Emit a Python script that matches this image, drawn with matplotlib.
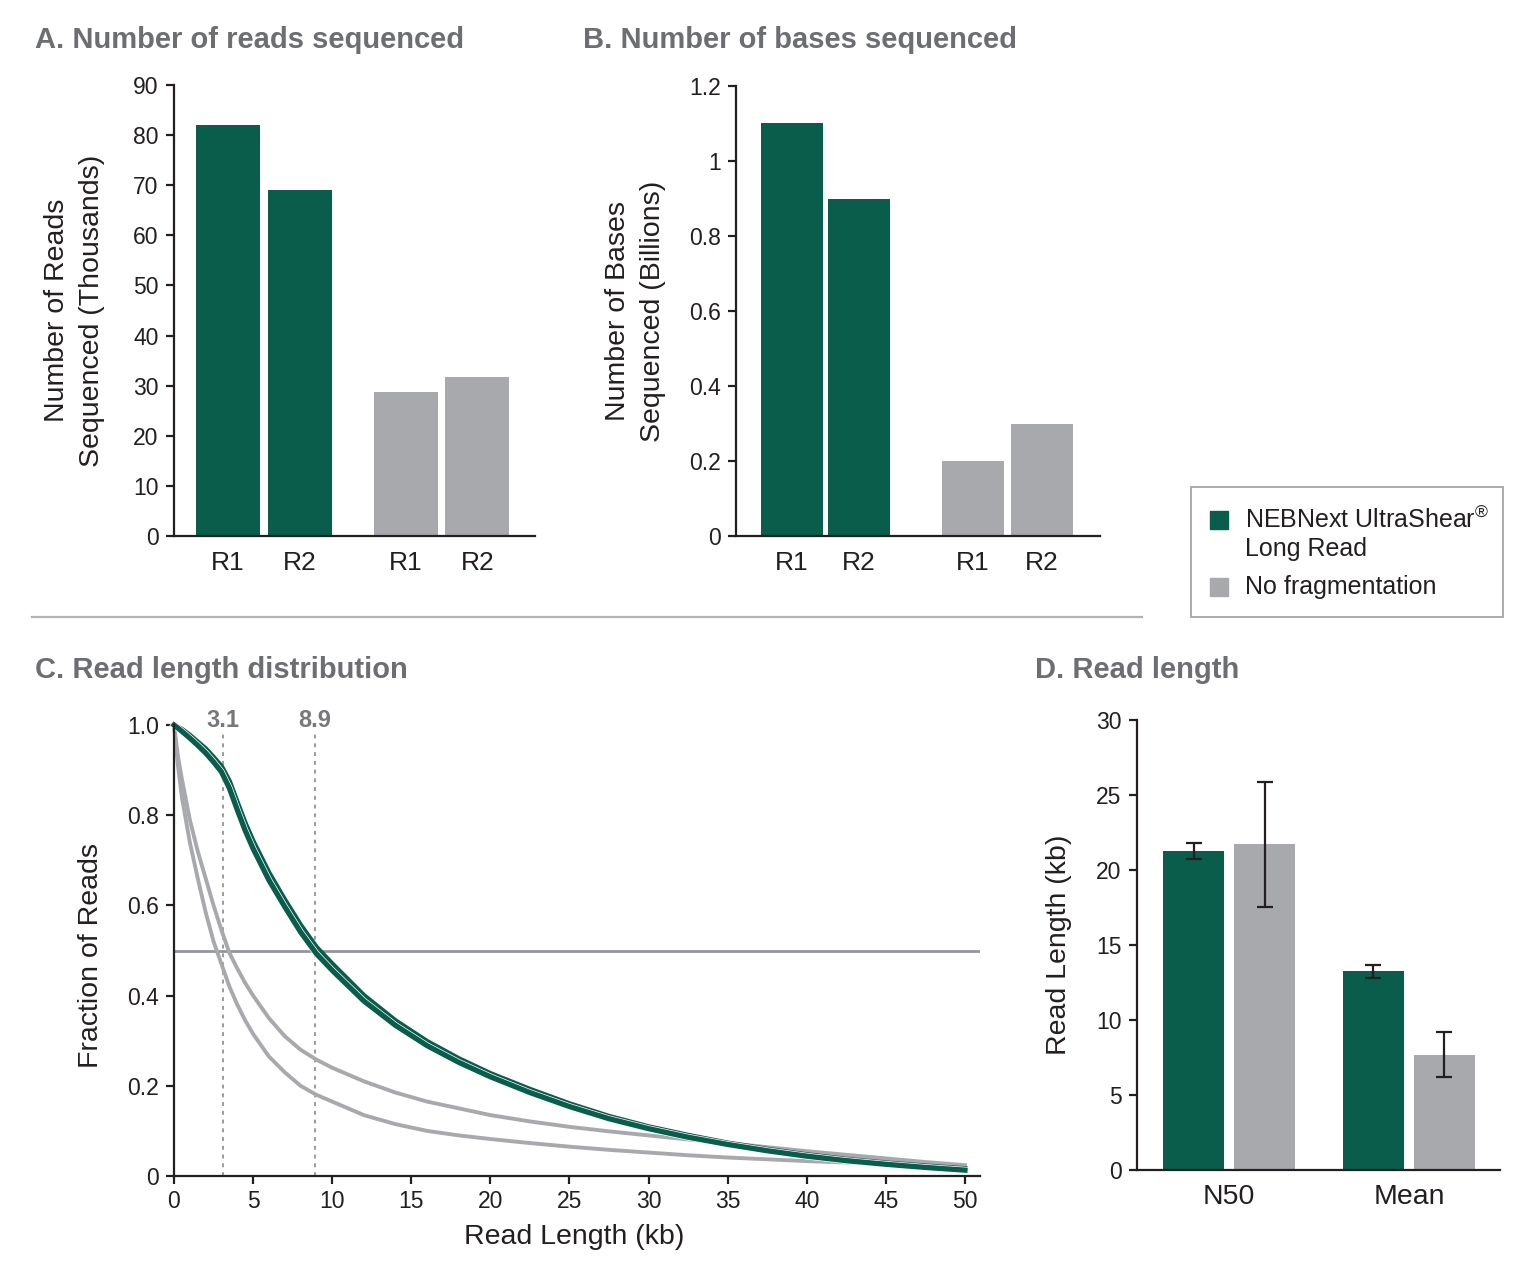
import numpy as np
import matplotlib
matplotlib.use('Agg')
import matplotlib.pyplot as plt
import matplotlib.patheffects as pe
from matplotlib.patches import Rectangle
from matplotlib.lines import Line2D

plt.rcParams['font.family'] = ['Liberation Sans', 'DejaVu Sans']
plt.rcParams['mathtext.fontset'] = 'custom'
plt.rcParams['mathtext.rm'] = 'Liberation Sans'
plt.rcParams['mathtext.it'] = 'Liberation Sans'

GREEN = '#0a5c4b'
GREY = '#a7a9ac'
TITLE = '#6d6e71'
INK = '#231f20'

# A. reads (thousands)
run_labels = ['R1', 'R2', 'R1', 'R2']
reads_ultrashear = [82, 69]
reads_nofrag = [28.7, 31.7]

# B. bases (billions)
bases_ultrashear = [1.1, 0.9]
bases_nofrag = [0.2, 0.3]

# C. read length distribution (fraction of reads >= length)
read_len_kb = [0, 0.25, 0.5, 1, 1.5, 2, 2.5, 3, 3.5, 4, 4.5, 5, 6, 7, 8, 9, 10,
               12, 14, 16, 18, 20, 22.5, 25, 27.5, 30, 32.5, 35, 37.5, 40,
               42.5, 45, 47.5, 50]
frac_us_r1 = [1.0, 0.995, 0.99, 0.977, 0.962, 0.947, 0.928, 0.908, 0.875, 0.828,
              0.782, 0.742, 0.672, 0.612, 0.556, 0.507, 0.47, 0.4, 0.344, 0.298,
              0.26, 0.227, 0.192, 0.16, 0.132, 0.109, 0.09, 0.073, 0.059, 0.047,
              0.037, 0.029, 0.022, 0.016]
frac_us_r2 = [1.0, 0.993, 0.986, 0.971, 0.955, 0.938, 0.918, 0.896, 0.86, 0.812,
              0.766, 0.726, 0.656, 0.597, 0.541, 0.493, 0.456, 0.388, 0.334, 0.289,
              0.252, 0.22, 0.185, 0.154, 0.127, 0.105, 0.086, 0.07, 0.056, 0.044,
              0.034, 0.026, 0.019, 0.013]
frac_nf_r1 = [1.0, 0.93, 0.88, 0.79, 0.72, 0.66, 0.6, 0.545, 0.495, 0.46,
              0.428, 0.4, 0.35, 0.31, 0.28, 0.258, 0.24, 0.21, 0.185, 0.165,
              0.15, 0.135, 0.121, 0.109, 0.099, 0.09, 0.081, 0.073, 0.064, 0.055,
              0.047, 0.039, 0.031, 0.024]
frac_nf_r2 = [1.0, 0.91, 0.84, 0.74, 0.66, 0.585, 0.52, 0.47, 0.42, 0.38,
              0.345, 0.315, 0.265, 0.23, 0.2, 0.18, 0.165, 0.135, 0.115, 0.1,
              0.09, 0.082, 0.073, 0.065, 0.058, 0.052, 0.046, 0.041, 0.037, 0.033,
              0.03, 0.027, 0.024, 0.02]
n50_marks = [3.1, 8.9]

# D. read length (kb)
d_groups = ['N50', 'Mean']
len_ultrashear = [21.27, 13.25]
len_ultrashear_err = [0.55, 0.42]
len_nofrag = [21.72, 7.7]
len_nofrag_err = [4.17, 1.48]

fig = plt.figure(figsize=(15.38, 12.75), dpi=100)
W, H = 1538.0, 1275.0


def add_ax(l, t, r, b):
    return fig.add_axes([l / W, 1 - b / H, (r - l) / W, (b - t) / H])


def style(ax):
    for s in ['top', 'right']:
        ax.spines[s].set_visible(False)
    for s in ['left', 'bottom']:
        ax.spines[s].set_linewidth(1.6)
        ax.spines[s].set_color(INK)
    ax.tick_params(axis='y', length=6, width=1.6, color=INK, labelsize=16.5,
                   labelcolor=INK, pad=5)


# ---- A
axA = add_ax(174, 85, 535, 536)
style(axA)
posA = [0, 1, 2.47, 3.46]
axA.bar(posA[:2], reads_ultrashear, width=0.89, color=GREEN)
axA.bar(posA[2:], reads_nofrag, width=0.89, color=GREY)
axA.set_xlim(-0.75, 4.26)
axA.set_ylim(0, 90)
axA.set_yticks(range(0, 91, 10))
axA.set_xticks(posA, run_labels)
axA.tick_params(axis='x', length=0, labelsize=19, labelcolor=INK, pad=11)
axA.set_ylabel('Number of Reads\nSequenced (Thousands)', fontsize=20.5,
               color=INK, linespacing=1.45)
axA.yaxis.set_label_coords(-0.19, 0.5)

# ---- B
axB = add_ax(736, 86, 1100, 536)
style(axB)
posB = [0, 0.99, 2.68, 3.7]
axB.bar(posB[:2], bases_ultrashear, width=0.92, color=GREEN)
axB.bar(posB[2:], bases_nofrag, width=0.92, color=GREY)
axB.set_xlim(-0.83, 4.56)
axB.set_ylim(0, 1.2)
axB.set_yticks([0, 0.2, 0.4, 0.6, 0.8, 1.0, 1.2],
               ['0', '0.2', '0.4', '0.6', '0.8', '1', '1.2'])
axB.set_xticks(posB, run_labels)
axB.tick_params(axis='x', length=0, labelsize=19, labelcolor=INK, pad=11)
axB.set_ylabel('Number of Bases\nSequenced (Billions)', fontsize=20.5,
               color=INK, linespacing=1.45)
axB.yaxis.set_label_coords(-0.192, 0.5)

# ---- C
axC = add_ax(174, 725, 980, 1176)
style(axC)
axC.axhline(0.5, color='#939598', lw=2)
for xm in n50_marks:
    axC.axvline(xm, ymax=0.99, color='#9a9a9a', lw=1.4, ls=(0, (2, 2.5)))
    axC.text(xm, 0.985, f'{xm}', ha='center', va='bottom', fontsize=17,
             fontweight='bold', color='#77787b')
axC.plot(read_len_kb, frac_nf_r1, color=GREY, lw=2.8, clip_on=False)
axC.plot(read_len_kb, frac_nf_r2, color=GREY, lw=2.8, clip_on=False)
axC.plot(read_len_kb, frac_us_r1, color=GREEN, lw=3.8, clip_on=False)
axC.plot(read_len_kb, frac_us_r2, color=GREEN, lw=3.8, clip_on=False,
         path_effects=[pe.Stroke(linewidth=4.8, foreground='white'), pe.Normal()])
axC.set_xlim(0, 50.95)
axC.set_ylim(0, 1.0)
axC.set_yticks([0, 0.2, 0.4, 0.6, 0.8, 1.0], ['0', '0.2', '0.4', '0.6', '0.8', '1.0'])
axC.set_xticks(range(0, 51, 5))
axC.tick_params(axis='x', length=6, width=1.6, color=INK, labelsize=16.5,
                labelcolor=INK, pad=4)
axC.set_ylabel('Fraction of Reads', fontsize=20.5, color=INK)
axC.yaxis.set_label_coords(-0.087, 0.49)
axC.set_xlabel('Read Length (kb)', fontsize=20.5, color=INK)
axC.xaxis.set_label_coords(0.496, -0.107)

# ---- D
axD = add_ax(1137, 720, 1500, 1170)
style(axD)
posD_us = [0, 2.535]
posD_nf = [1, 3.535]
axD.bar(posD_us, len_ultrashear, width=0.86, color=GREEN)
axD.bar(posD_nf, len_nofrag, width=0.86, color=GREY)
axD.errorbar(posD_us, len_ultrashear, yerr=len_ultrashear_err, fmt='none',
             ecolor=INK, elinewidth=1.6, capsize=5.5, capthick=1.6)
axD.errorbar(posD_nf, len_nofrag, yerr=len_nofrag_err, fmt='none',
             ecolor=INK, elinewidth=1.6, capsize=5.5, capthick=1.6)
axD.set_xlim(-0.8, 4.32)
axD.set_ylim(0, 30)
axD.set_yticks(range(0, 31, 5))
axD.set_xticks([0.5, 3.035], d_groups)
axD.tick_params(axis='x', length=0, labelsize=20.5, labelcolor=INK, pad=10)
axD.set_ylabel('Read Length (kb)', fontsize=20.5, color=INK)
axD.yaxis.set_label_coords(-0.179, 0.5)

# ---- titles
titles = [('A. Number of reads sequenced', 35, 40),
          ('B. Number of bases sequenced', 583, 40),
          ('C. Read length distribution', 35, 670),
          ('D. Read length', 1035, 670)]
for txt, x, y in titles:
    fig.text(x / W, 1 - y / H, txt, ha='left', va='center', fontsize=21,
             fontweight='bold', color=TITLE)

# separator
fig.add_artist(Line2D([32 / W, 1142 / W], [1 - 617 / H, 1 - 617 / H],
                      color='#b3b3b3', lw=1.6))

# legend box
fig.add_artist(Rectangle((1191 / W, 1 - 617 / H), 312 / W, 130 / H,
                         transform=fig.transFigure, fill=False,
                         edgecolor='#9d9d9d', lw=1.2))
leg_items = [(GREEN, 'NEBNext UltraShear$^{®}$', 520),
             (GREY, 'No fragmentation', 587)]
for col, txt, yc in leg_items:
    fig.add_artist(Rectangle((1210 / W, 1 - (yc + 9) / H), 18 / W, 18 / H,
                             transform=fig.transFigure, color=col))
    fig.text(1245 / W, 1 - yc / H, txt, ha='left', va='center', fontsize=18,
             color=INK)
fig.text(1245 / W, 1 - 549 / H, 'Long Read', ha='left', va='center',
         fontsize=18, color=INK)

fig.savefig('out.png', dpi=100)
